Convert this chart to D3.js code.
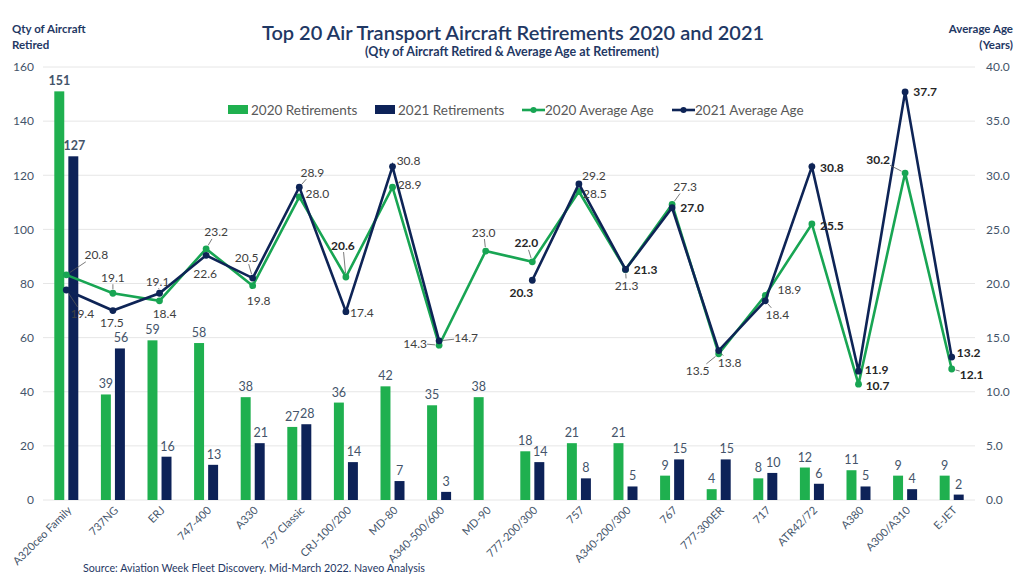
<!DOCTYPE html>
<html>
<head>
<meta charset="utf-8">
<script src="https://cdn.jsdelivr.net/npm/d3@7"></script>
<style>
    body { margin: 0; background: #fff; }
    svg { font-family: Lato, "Open Sans", sans-serif; }
</style>
</head>
<body>
<svg id="chart" width="1024" height="576"></svg>
<script>

// Data
const categories = ["A320ceo Family", "737NG", "ERJ", "747-400", "A330", "737 Classic", "CRJ-100/200",
    "MD-80", "A340-500/600", "MD-90", "777-200/300", "757", "A340-200/300", "767", "777-300ER",
    "717", "ATR42/72", "A380", "A300/A310", "E-JET"];
const retired2020 = [151, 39, 59, 58, 38, 27, 36, 42, 35, 38, 18, 21, 21, 9, 4, 8, 12, 11, 9, 9];
const retired2021 = [127, 56, 16, 13, 21, 28, 14, 7, 3, null, 14, 8, 5, 15, 15, 10, 6, 5, 4, 2];
const age2020 = [20.8, 19.1, 18.4, 23.2, 19.8, 28.0, 20.6, 28.9, 14.3, 23.0, 22.0, 28.5, 21.3, 27.3, 13.5, 18.9, 25.5, 10.7, 30.2, 12.1];
const age2021 = [19.4, 17.5, 19.1, 22.6, 20.5, 28.9, 17.4, 30.8, 14.7, null, 20.3, 29.2, 21.3, 27.0, 13.8, 18.4, 30.8, 11.9, 37.7, 13.2];
const leftTicks = [0, 20, 40, 60, 80, 100, 120, 140, 160];
const rightTicks = [0, 5, 10, 15, 20, 25, 30, 35, 40];

// label placement for the age labels: [dx, dy, leader line?, dark?]
const ageLabelPos2020 = [[30, -20, 1, 0], [0, -16, 1, 0], [5, 13, 0, 0], [10, -17, 1, 0], [6, 15, 0, 0],
    [18, -3, 0, 0], [-3, -32, 1, 1], [17, -3, 0, 0], [-24, -2, 1, 0], [-2, -19, 1, 0],
    [-6, -19, 1, 1], [16, 2, 0, 0], [1, 16, 1, 0], [13, -18, 1, 0], [-21, 17, 1, 0],
    [24, -6, 0, 0], [20, 2, 0, 1], [19, 1, 0, 1], [-27, -14, 1, 1], [20, 5, 1, 1]];
const ageLabelPos2021 = [[16, 24, 1, 0], [-1, 12, 0, 0], [-2, -12, 1, 0], [-1, 18, 0, 0], [-6, -21, 1, 0],
    [13, -15, 1, 0], [16, 1, 0, 0], [16, -6, 0, 0], [27, -3, 1, 0], null,
    [-11, 12, 0, 1], [15, -8, 0, 0], [20, 0, 0, 1], [20, 0, 0, 1], [11, 12, 1, 0],
    [12, 14, 1, 0], [20, 1, 0, 1], [18, -2, 0, 1], [20, 0, 0, 1], [17, -5, 0, 1]];

const green = "#1fb04f";
const navy = "#0d2258";
const greenLine = "#18a553";
const navyLine = "#0e2456";
const textBlue = "#44546a";
const titleBlue = "#1f3864";

const svg = d3.select("#chart");
const plotLeft = 43, plotRight = 975, plotTop = 67, plotBottom = 500;

const x = d3.scaleBand().domain(categories).range([plotLeft, plotRight]).paddingInner(0.485).paddingOuter(0.2425);
const xSeries = d3.scaleBand().domain([0, 1]).range([0, x.bandwidth()]).paddingInner(0.29).paddingOuter(0);
const yLeft = d3.scaleLinear().domain([0, 160]).range([plotBottom, plotTop]);
const yRight = d3.scaleLinear().domain([0, 40]).range([plotBottom, plotTop]);
const cx = d => x(d) + x.bandwidth() / 2;

// gridlines
svg.append("g").selectAll("line").data(leftTicks).join("line")
    .attr("x1", plotLeft).attr("x2", plotRight)
    .attr("y1", d => yLeft(d)).attr("y2", d => yLeft(d))
    .attr("stroke", "#e6e6e6").attr("stroke-width", 1);

// left axis
const axL = svg.append("g").attr("transform", `translate(${plotLeft},0)`)
    .call(d3.axisLeft(yLeft).tickValues(leftTicks).tickSize(0).tickPadding(9));
axL.select(".domain").remove();
axL.selectAll("text").attr("fill", textBlue).attr("font-size", 12).attr("font-family", "Lato");

// right axis
const axR = svg.append("g").attr("transform", `translate(${plotRight},0)`)
    .call(d3.axisRight(yRight).tickValues(rightTicks).tickFormat(d3.format(".1f")).tickSize(0).tickPadding(11));
axR.select(".domain").remove();
axR.selectAll("text").attr("fill", textBlue).attr("font-size", 12).attr("font-family", "Lato");

// x axis labels
const axX = svg.append("g").attr("transform", `translate(0,${plotBottom})`)
    .call(d3.axisBottom(x).tickSize(0).tickPadding(0));
axX.select(".domain").remove();
axX.selectAll("text")
    .attr("fill", textBlue).attr("font-size", 11).attr("font-family", "Lato")
    .attr("text-anchor", "end").attr("dy", 0)
    .attr("transform", "translate(6,11) rotate(-45)");

// bars
const barSeries = [retired2020, retired2021];
const barColors = [green, navy];
barSeries.forEach((vals, s) => {
    const g = svg.append("g");
    const data = categories.map((c, i) => ({c, v: vals[i]})).filter(d => d.v != null);
    g.selectAll("rect").data(data).join("rect")
        .attr("x", d => x(d.c) + xSeries(s))
        .attr("width", xSeries.bandwidth())
        .attr("y", d => yLeft(d.v))
        .attr("height", d => yLeft(0) - yLeft(d.v))
        .attr("fill", barColors[s]);
    g.selectAll("text").data(data).join("text")
        .attr("x", d => x(d.c) + xSeries(s) + xSeries.bandwidth() / 2 + (s === 1 && d.v >= 10 ? 1 : 0))
        .attr("y", d => yLeft(d.v) - 6)
        .attr("text-anchor", "middle")
        .attr("font-size", 12.5).attr("font-family", "Lato")
        .attr("fill", textBlue)
        .attr("font-weight", d => d.v > 100 ? 700 : 400)
        .text(d => d.v);
});

// age lines
const ageSeries = [age2020, age2021];
const lineColors = [greenLine, navyLine];
const labelPos = [ageLabelPos2020, ageLabelPos2021];
const line = d3.line().defined(d => d.v != null).x(d => cx(d.c)).y(d => yRight(d.v));

ageSeries.forEach((vals, s) => {
    const data = categories.map((c, i) => ({c, v: vals[i], p: labelPos[s][i]}));
    const g = svg.append("g");
    g.append("path").datum(data).attr("d", line)
        .attr("fill", "none").attr("stroke", lineColors[s]).attr("stroke-width", 2.6)
        .attr("stroke-linejoin", "miter");
    const pts = data.filter(d => d.v != null);
    g.selectAll("circle").data(pts).join("circle")
        .attr("cx", d => cx(d.c)).attr("cy", d => yRight(d.v)).attr("r", 3.4)
        .attr("fill", lineColors[s]);
});

// age labels on top
ageSeries.forEach((vals, s) => {
    const data = categories.map((c, i) => ({c, v: vals[i], p: labelPos[s][i]})).filter(d => d.v != null);
    const g = svg.append("g");
    data.forEach(d => {
        const px = cx(d.c), py = yRight(d.v);
        const [dx, dy, leader, dark] = d.p;
        const tx = px + dx, ty = py + dy;
        if (leader) {
            const len = Math.hypot(dx, dy);
            const t = Math.min(dx === 0 ? 1 : 12 / Math.abs(dx), dy === 0 ? 1 : 7 / Math.abs(dy));
            g.append("line")
                .attr("x1", px + dx / len * 4).attr("y1", py + dy / len * 4)
                .attr("x2", tx - dx * t).attr("y2", ty - dy * t)
                .attr("stroke", "#595959").attr("stroke-width", 0.8);
        }
        g.append("text")
            .attr("x", tx).attr("y", ty)
            .attr("text-anchor", "middle").attr("dominant-baseline", "central")
            .attr("font-size", 12).attr("font-family", "Lato")
            .attr("fill", dark ? "#262626" : "#404040")
            .attr("font-weight", dark ? 700 : 400)
            .text(d3.format(".1f")(d.v));
    });
});

// legend
const legend = svg.append("g").attr("font-family", "Lato").attr("font-size", 13.5).attr("fill", "#595959");
const legendItems = [
    {name: "2020 Retirements", type: "bar", color: green, x: 228},
    {name: "2021 Retirements", type: "bar", color: navy, x: 375},
    {name: "2020 Average Age", type: "line", color: greenLine, x: 522},
    {name: "2021 Average Age", type: "line", color: navyLine, x: 672}
];
legendItems.forEach(it => {
    if (it.type === "bar") {
        legend.append("rect").attr("x", it.x).attr("y", 105).attr("width", 20).attr("height", 9).attr("fill", it.color);
    } else {
        legend.append("line").attr("x1", it.x).attr("x2", it.x + 23).attr("y1", 110).attr("y2", 110)
            .attr("stroke", it.color).attr("stroke-width", 2.6);
        legend.append("circle").attr("cx", it.x + 11.5).attr("cy", 110).attr("r", 3).attr("fill", it.color);
    }
    legend.append("text").attr("x", it.x + 23).attr("y", 110).attr("dominant-baseline", "central")
        .attr("fill", "#595959").text(it.name);
});

// titles
svg.append("text").attr("x", 513).attr("y", 40).attr("text-anchor", "middle")
    .attr("font-size", 20).attr("font-family", "Lato").attr("font-weight", 600).attr("fill", titleBlue)
    .text("Top 20 Air Transport Aircraft Retirements 2020 and 2021");
svg.append("text").attr("x", 512).attr("y", 56).attr("text-anchor", "middle")
    .attr("font-size", 12.5).attr("font-family", "Lato").attr("font-weight", 700).attr("fill", titleBlue)
    .text("(Qty of Aircraft Retired & Average Age at Retirement)");

const axisTitle = svg.append("g").attr("font-family", "Lato").attr("font-size", 11.5)
    .attr("font-weight", 700).attr("fill", titleBlue);
axisTitle.append("text").attr("x", 12).attr("y", 33).text("Qty of Aircraft");
axisTitle.append("text").attr("x", 12).attr("y", 49).text("Retired");
axisTitle.append("text").attr("x", 1013).attr("y", 33).attr("text-anchor", "end").text("Average Age");
axisTitle.append("text").attr("x", 1013).attr("y", 49).attr("text-anchor", "end").text("(Years)");

svg.append("text").attr("x", 83).attr("y", 572)
    .attr("font-size", 10.7).attr("font-family", "Lato").attr("fill", titleBlue)
    .text("Source: Aviation Week Fleet Discovery. Mid-March 2022. Naveo Analysis");

</script>
</body>
</html>
